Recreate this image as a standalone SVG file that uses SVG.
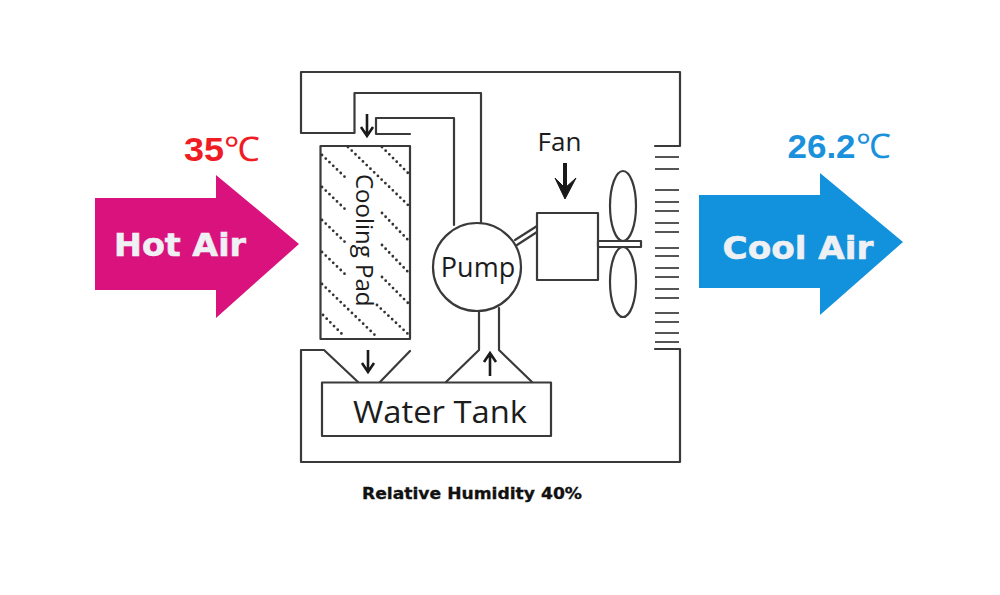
<svg xmlns="http://www.w3.org/2000/svg" width="1000" height="595" viewBox="0 0 1000 595">
<defs>
<style>
.ln{fill:none;stroke:#3a3a3a;stroke-width:2.200;stroke-linejoin:round;stroke-linecap:round}
.sh{fill:#fff;stroke:#3a3a3a;stroke-width:2.200;stroke-linejoin:round}
.dot{fill:none;stroke:#333;stroke-width:2.800;stroke-linecap:round;stroke-dasharray:0 5.200}
.lv{fill:none;stroke:#555;stroke-width:2.200}
.ar{fill:none;stroke:#1a1a1a;stroke-width:2.600}
.lb{font-family:"Open Sans","Noto Sans",sans-serif;fill:#1c1c1c;font-weight:500}
.big{font-family:"DejaVu Sans",sans-serif;font-weight:bold;fill:#eef0f4;stroke:#eef0f4;stroke-width:0.600;font-size:32px}
.tmp{font-family:"Liberation Sans",Arial,sans-serif;font-size:34px;font-weight:bold}
.deg{font-weight:normal}
</style>
</defs>
<rect width="1000" height="595" fill="#fff"/>
<g id="hot-air">
<polygon points="95,198 216,198 216,175 299,244 216,318 216,290 95,290" fill="#d9127d"/>
<text class="big" x="180" y="256" text-anchor="middle" textLength="132" lengthAdjust="spacingAndGlyphs">Hot Air</text>
<text class="tmp" x="222" y="161" text-anchor="middle" fill="#f01c24" textLength="76" lengthAdjust="spacingAndGlyphs">35<tspan class="deg">℃</tspan></text>
</g>
<g id="cool-air">
<polygon points="699,195 820,195 820,173 903,242 820,315 820,288 699,288" fill="#1291dc"/>
<text class="big" x="798" y="259" text-anchor="middle" textLength="151" lengthAdjust="spacingAndGlyphs">Cool Air</text>
<text class="tmp" x="839" y="158" text-anchor="middle" fill="#1a91dc" textLength="103" lengthAdjust="spacingAndGlyphs">26.2<tspan class="deg">℃</tspan></text>
</g>
<g id="housing">
<path class="ln" d="M655,146H680V72H301V133H354.500V93H481V224"/>
<path class="ln" d="M454,225V118H376V134H410"/>
<path class="ln" d="M410,351L380,382M358,382L324,350H301V462H680V349H655"/>
</g>
<g id="cooling-pad">
<rect class="sh" x="320.500" y="146" width="89.500" height="193"/>
<path class="dot" d="M322,155L348,180M348,147L408,205M382,147L408,173M322,187L348,212M382,213L408,240M322,220L348,245M382,245L408,272M322,252L348,277M382,277L408,303M322,284L378,338M377,305L408,334M323,315L345,337"/>
<text class="lb" transform="translate(356,174) rotate(90)" font-size="24">Cooling Pad</text>
</g>
<g id="water-tank">
<rect class="sh" x="322" y="382.500" width="229" height="53.500"/>
<text class="lb" x="353" y="423" font-size="31" textLength="174" lengthAdjust="spacingAndGlyphs">Water Tank</text>
</g>
<g id="pump">
<path class="ln" d="M479,311V350L446,382M499,308V350L532,382"/>
<circle class="sh" cx="477" cy="267" r="44"/>
<text class="lb" x="478" y="277" text-anchor="middle" font-size="27">Pump</text>
</g>
<g id="fan">
<text class="lb" x="559.500" y="151" text-anchor="middle" font-size="26">Fan</text>
<path class="ln" d="M515,240L537,226M517,245L537,232"/>
<rect class="sh" x="537" y="213" width="61" height="67"/>
<ellipse class="ln" cx="623" cy="206" rx="13" ry="35"/>
<ellipse class="ln" cx="623" cy="282" rx="13" ry="35"/>
<rect class="sh" x="598" y="241" width="43" height="6"/>
</g>
<g id="louvers">
<path class="lv" d="M655,157H679M655,169H679M655,190H679M655,202H679M655,211H679M655,223H679M655,232H679M655,248H679M655,256H679M655,268H679M655,277H679M655,289H679M655,298H679M655,313H679M655,322H679M655,333H679M655,342H679"/>
</g>
<g id="connectors">
<path class="ar" d="M367,114V136M361,127L367,136L373,127"/>
<path class="ar" d="M368,350V372M362,363L368,372L374,363"/>
<path class="ar" d="M490,376V353M484,362L490,353L496,362"/>
<path d="M565,163V190" fill="none" stroke="#1a1a1a" stroke-width="4"/>
<path d="M555,178L565,199L576,178L565,188Z" fill="#1a1a1a" stroke="#1a1a1a"/>
</g>
<text x="472" y="499" text-anchor="middle" font-family="DejaVu Sans,sans-serif" font-weight="bold" font-size="15" fill="#111" stroke="#111" stroke-width="0.300" textLength="220" lengthAdjust="spacingAndGlyphs">Relative Humidity 40%</text>
</svg>
